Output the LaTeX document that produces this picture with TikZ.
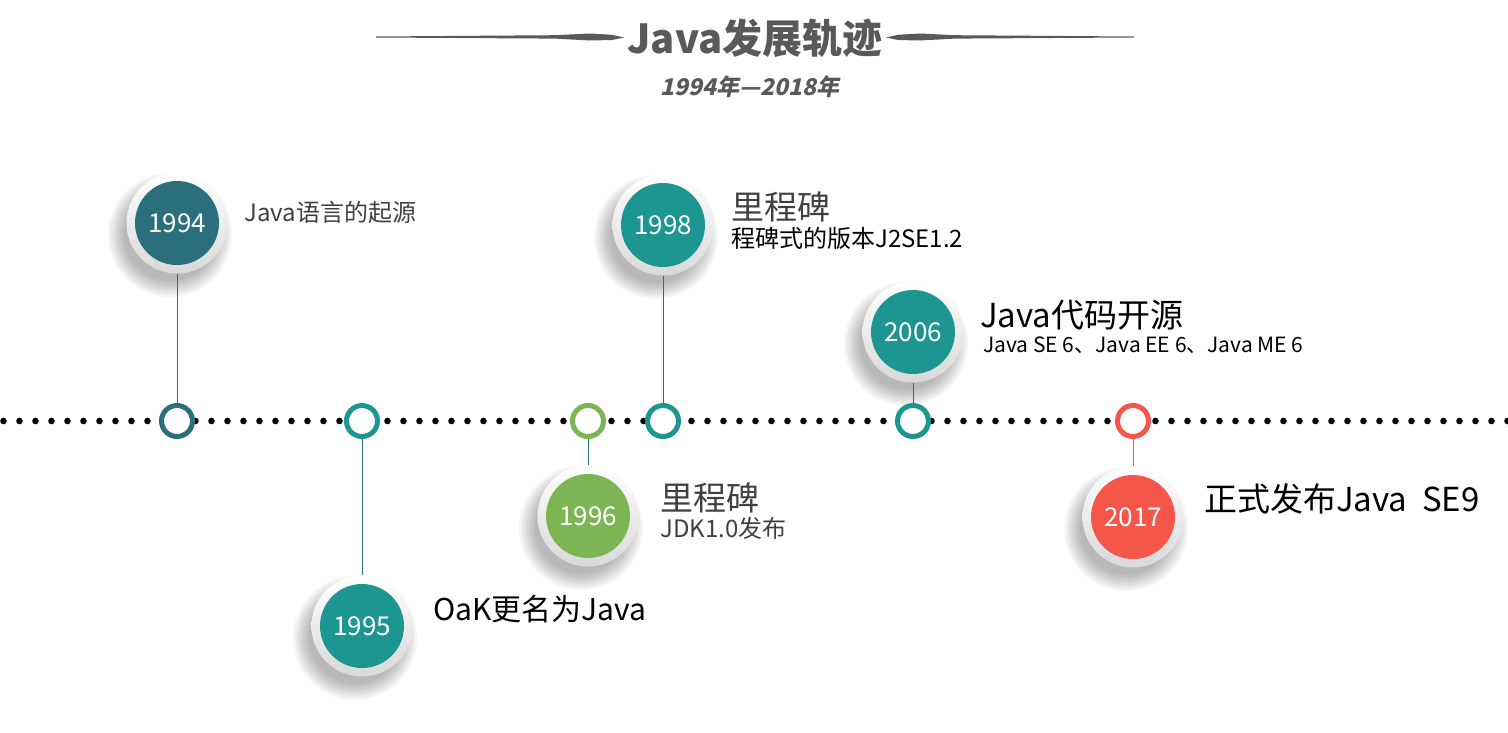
\documentclass[tikz,border=0pt]{standalone}
\usepackage{fontspec}
\setmainfont{Noto Sans CJK SC}
\newfontfamily\slantfont[FakeSlant=0.22]{Noto Sans CJK SC}
\definecolor{dteal}{HTML}{2A6F7B}
\definecolor{teal}{HTML}{1D9591}
\definecolor{lgreen}{HTML}{7DB554}
\definecolor{lred}{HTML}{F4574A}
\definecolor{tgray}{HTML}{595959}
\definecolor{txtgray}{HTML}{404040}
\begin{document}
\begin{tikzpicture}[
    x=1pt, y=-1pt,
    ring/.style={circle, draw=#1, line width=5pt, fill=white,
                 minimum size=31pt, inner sep=0pt},
    halo/.style={circle, top color=white, bottom color=gray!30,
                 minimum size=101pt, inner sep=0pt},
    disc/.style={circle, fill=#1, minimum size=84pt, inner sep=0pt,
                 text=white, font=\fontsize{26}{26}\selectfont},
    link/.style={draw=#1, line width=1pt},
    big/.style={anchor=base west, inner sep=0pt, font=\fontsize{33}{33}\selectfont},
    small/.style={anchor=base west, inner sep=0pt, font=\fontsize{24}{24}\selectfont}
  ]
  \useasboundingbox (0,0) rectangle (1508,732);

  % title with brush strokes
  \foreach \s in {-1,1} {
    \fill[tgray] ({755+\s*379},36.5) -- ({755+\s*200},35.2) -- ({755+\s*165},33.5)
      -- ({755+\s*143},34.8) -- ({755+\s*131},37.5) -- ({755+\s*143},40)
      -- ({755+\s*165},40.5) -- ({755+\s*200},38.6) -- ({755+\s*379},37.5) -- cycle;
  }
  \node[font=\fontsize{40}{40}\selectfont\bfseries, text=tgray] (title) at (755,38) {Java发展轨迹};
  \node[font=\fontsize{23}{23}\slantfont\bfseries, text=tgray] (sub) at (750,87) {1994年—2018年};

  % dotted time line
  \foreach \i in {0,...,94}
    \fill ({\i*16+3.5},421) circle (3.3pt);

  % years
  \foreach \nm/\x/\y/\yr/\c in {a/177/223/1994/dteal, b/362/626/1995/teal,
      c/588/516/1996/lgreen, d/663/225/1998/teal, e/913/332/2006/teal,
      f/1133/517/2017/lred} {
    \foreach \k in {0,...,8}
      \fill[black, opacity=0.035] (\x-7,\y+12) circle ({46pt+\k*2pt});
    \node[halo] (\nm h) at (\x,\y) {};
    \node[disc=\c] (\nm d) at (\x,\y) {\yr};
  }

  % marks on the line
  \foreach \nm/\x/\c in {a/177/dteal, b/362/teal, c/588/lgreen,
      d/663/teal, e/913/teal, f/1133/lred}
    \node[ring=\c] (\nm r) at (\x,421) {};

  \draw[link=dteal] (ah) -- (ar);
  \draw[link=dteal] (br) -- (bh);
  \draw[link=dteal] (cr) -- (ch);
  \draw[link=dteal] (dh) -- (dr);
  \draw[link=dteal] (eh) -- (er);
  \draw[link=lred] (fr) -- (fh);

  % labels
  \node[small, text=txtgray] (la) at (244,221) {Java语言的起源};
  \node[anchor=base west, inner sep=0pt, font=\fontsize{30}{30}\selectfont] (lb) at (433,620) {OaK更名为Java};
  \node[big, text=txtgray] (lc1) at (660,510) {里程碑};
  \node[small, text=txtgray] (lc2) at (660,537) {JDK1.0发布};
  \node[big, text=txtgray] (ld1) at (731,219) {里程碑};
  \node[small] (ld2) at (731,247) {程碑式的版本J2SE1.2};
  \node[big] (le1) at (980,327) {Java代码开源};
  \node[anchor=base west, inner sep=0pt, font=\fontsize{21}{21}\selectfont] (le2) at (983,352) {Java SE 6、Java EE 6、Java ME 6};
  \node[big] (lf) at (1204,511) {正式发布Java\ \ SE9};
\end{tikzpicture}
\end{document}
